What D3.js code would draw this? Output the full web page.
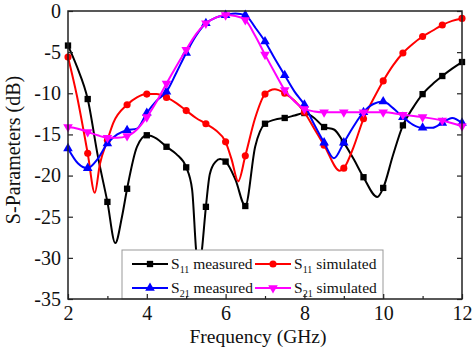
<!DOCTYPE html>
<html>
<head>
<meta charset="utf-8">
<script src="https://cdn.jsdelivr.net/npm/d3@7"></script>
<style>
  body { margin: 0; background: #fff; }
  text { font-family: "Liberation Serif", "Times New Roman", serif; fill: #111; }
</style>
</head>
<body>
<div id="chart"></div>
<script>
// S11 measured
var s11MeasFreq = [2, 2.23, 2.5, 2.76, 3, 3.2, 3.37, 3.5, 3.75, 4, 4.25, 4.5, 4.75, 5, 5.15, 5.25, 5.32, 5.4, 5.5, 5.6, 5.75, 5.86, 6, 6.25, 6.5, 6.75, 7, 7.25, 7.5, 7.75, 8, 8.25, 8.5, 8.75, 9, 9.25, 9.5, 9.85, 10, 10.25, 10.5, 10.75, 11, 11.25, 11.5, 11.75, 12];
var s11MeasDb   = [-4.2, -6.8, -10.7, -17.7, -23.2, -28.2, -25, -21.6, -16.5, -15.1, -15.5, -16.5, -17.4, -19.0, -21.7, -29, -32, -29, -23.8, -19.8, -18.3, -18.0, -18.3, -20.5, -23.7, -16.5, -13.7, -13.2, -13.0, -12.7, -12.4, -13.0, -14.1, -14.4, -16.0, -18.0, -20.2, -22.6, -21.5, -17.5, -13.9, -11.8, -10.1, -8.9, -7.9, -7.0, -6.2];

// S11 simulated
var s11SimFreq = [2, 2.23, 2.5, 2.68, 2.81, 3, 3.15, 3.5, 3.75, 4, 4.25, 4.5, 4.75, 5, 5.25, 5.5, 5.75, 6, 6.15, 6.32, 6.5, 6.75, 7, 7.25, 7.5, 7.75, 8, 8.25, 8.5, 8.9, 9, 9.25, 9.5, 9.75, 10, 10.25, 10.5, 10.75, 11, 11.25, 11.5, 11.75, 12];
var s11SimDb   = [-5.6, -10.4, -17.3, -22.1, -18.6, -15.7, -13.6, -11.4, -10.5, -10.1, -10.1, -10.5, -11.2, -12.1, -13.0, -13.7, -14.5, -15.9, -18.0, -20.7, -17.6, -13.0, -10.1, -9.5, -10.0, -10.9, -12.3, -14.3, -16.3, -19.4, -19.1, -16.5, -13.1, -10.7, -8.5, -6.6, -5.1, -4.0, -3.1, -2.4, -1.7, -1.2, -0.9];

// S21 measured
var s21MeasFreq = [2, 2.25, 2.5, 2.75, 3, 3.25, 3.5, 3.75, 4, 4.25, 4.5, 4.75, 5, 5.25, 5.5, 5.75, 6, 6.25, 6.5, 6.75, 7, 7.25, 7.5, 7.75, 8, 8.25, 8.5, 8.75, 9, 9.25, 9.5, 9.75, 10, 10.25, 10.5, 10.75, 11, 11.25, 11.5, 11.75, 12];
var s21MeasDb   = [-16.7, -18.5, -19.1, -18.0, -16.1, -15.0, -14.5, -14.3, -12.4, -10.9, -9.8, -7.5, -5.1, -3.0, -1.5, -0.8, -0.5, -0.3, -0.5, -2.0, -3.7, -5.8, -7.8, -9.8, -11.4, -13.8, -16.0, -17.9, -16.0, -14.0, -12.3, -11.3, -11.0, -11.8, -12.9, -13.8, -14.2, -14.2, -13.6, -13.0, -13.6];

// S21 simulated
var s21SimFreq = [2, 2.25, 2.5, 2.75, 3, 3.25, 3.5, 3.75, 4, 4.25, 4.5, 4.75, 5, 5.25, 5.5, 5.75, 6, 6.25, 6.5, 6.75, 7, 7.25, 7.5, 7.75, 8, 8.25, 8.5, 9, 9.5, 10, 10.5, 11, 11.5, 12];
var s21SimDb   = [-14.1, -14.3, -14.7, -15.1, -15.4, -15.4, -15.2, -14.4, -12.9, -11.0, -8.8, -6.7, -4.7, -2.8, -1.5, -0.8, -0.5, -0.6, -1.1, -3.0, -5.3, -7.5, -9.6, -11.0, -11.9, -12.2, -12.3, -12.3, -12.3, -12.3, -12.6, -12.9, -13.3, -14.0];

var xTicks = [2, 4, 6, 8, 10, 12];
var xMinor = [3, 5, 7, 9, 11];
var yTicks = [0, -5, -10, -15, -20, -25, -30, -35];

var width = 474, height = 350;
var x = d3.scaleLinear().domain([2, 12]).range([68, 462]);
var y = d3.scaleLinear().domain([-35, 0]).range([299, 11]);

var svg = d3.select('#chart').append('svg')
    .attr('width', width)
    .attr('height', height);

var series = [
    { name: '11', label: ' measured', freq: s11MeasFreq, db: s11MeasDb, color: '#000000', marker: 'square' },
    { name: '11', label: ' simulated', freq: s11SimFreq, db: s11SimDb, color: '#ff0000', marker: 'circle' },
    { name: '21', label: ' measured', freq: s21MeasFreq, db: s21MeasDb, color: '#0000ff', marker: 'triUp' },
    { name: '21', label: ' simulated', freq: s21SimFreq, db: s21SimDb, color: '#ff00ff', marker: 'triDown' }
];

var symbols = {
    square: d3.symbol().type(d3.symbolSquare).size(40),
    circle: d3.symbol().type(d3.symbolCircle).size(40),
    triUp: d3.symbol().type(d3.symbolTriangle).size(40),
    triDown: d3.symbol().type(d3.symbolTriangle).size(40)
};

var line = d3.line()
    .x(d => x(d.f))
    .y(d => y(d.v))
    .curve(d3.curveMonotoneX);

var plot = svg.append('g');

series.forEach(function(s) {
    var pts = s.freq.map((f, i) => ({ f: f, v: s.db[i] }));
    plot.append('path')
        .datum(pts)
        .attr('fill', 'none')
        .attr('stroke', s.color)
        .attr('stroke-width', 2)
        .attr('d', line);

    plot.selectAll(null)
        .data(pts.filter(d => Math.abs(d.f * 2 - Math.round(d.f * 2)) < 1e-6))
        .enter()
        .append('path')
            .attr('d', symbols[s.marker])
            .attr('fill', s.color)
            .attr('transform', d => 'translate(' + x(d.f) + ',' + y(d.v) + ')' + (s.marker == 'triDown' ? ' rotate(180)' : ''));
});

// legend
var legend = svg.append('g');
legend.append('rect')
    .attr('x', 122)
    .attr('y', 250)
    .attr('width', 261)
    .attr('height', 49)
    .attr('fill', '#fff')
    .attr('stroke', '#999')
    .attr('stroke-width', 1);

var legendPos = [
    { x: 132, y: 264 },
    { x: 255, y: 264 },
    { x: 132, y: 288 },
    { x: 255, y: 288 }
];

series.forEach(function(s, i) {
    var p = legendPos[i];
    var row = legend.append('g').attr('transform', 'translate(' + p.x + ',' + p.y + ')');
    row.append('line')
        .attr('x1', 0).attr('x2', 36)
        .attr('y1', 0).attr('y2', 0)
        .attr('stroke', s.color)
        .attr('stroke-width', 2);
    row.append('path')
        .attr('d', symbols[s.marker])
        .attr('fill', s.color)
        .attr('transform', 'translate(18,0)' + (s.marker == 'triDown' ? ' rotate(180)' : ''));
    var t = row.append('text')
        .attr('x', 39)
        .attr('y', 5)
        .attr('font-size', 15.5);
    t.append('tspan').text('S');
    t.append('tspan').attr('font-size', 10).attr('dy', 4).text(s.name);
    t.append('tspan').attr('dy', -4).text(s.label);
});

// axes
var axisColor = '#222';

var xAxis = svg.append('g')
    .attr('transform', 'translate(0,' + y(-35) + ')')
    .call(d3.axisBottom(x).tickValues(xTicks).tickSize(-5).tickPadding(7).tickFormat(d3.format('d')));
xAxis.selectAll('text').attr('font-size', 20).attr('dy', '0.7em');

svg.append('g')
    .attr('transform', 'translate(0,' + y(-35) + ')')
    .call(d3.axisBottom(x).tickValues(xMinor).tickSize(-3).tickFormat(''));

var yAxis = svg.append('g')
    .attr('transform', 'translate(' + x(2) + ',0)')
    .call(d3.axisLeft(y).tickValues(yTicks).tickSize(-5).tickPadding(7).tickFormat(d => d));
yAxis.selectAll('text').attr('font-size', 20);

svg.append('g')
    .attr('transform', 'translate(' + x(12) + ',0)')
    .call(d3.axisRight(y).tickValues(yTicks).tickSize(-5).tickFormat(''));

svg.selectAll('.domain').remove();
svg.selectAll('.tick line').attr('stroke', axisColor).attr('stroke-width', 1.2);
svg.selectAll('.tick text').style('fill', '#111').attr('font-family', '"Liberation Serif", "Times New Roman", serif');

svg.append('rect')
    .attr('x', x(2))
    .attr('y', y(0))
    .attr('width', x(12) - x(2))
    .attr('height', y(-35) - y(0))
    .attr('fill', 'none')
    .attr('stroke', axisColor)
    .attr('stroke-width', 1.5);

svg.append('text')
    .attr('x', 258)
    .attr('y', 343)
    .attr('text-anchor', 'middle')
    .attr('font-size', 19.5)
    .text('Frequency (GHz)');

svg.append('text')
    .attr('transform', 'translate(20,150) rotate(-90)')
    .attr('text-anchor', 'middle')
    .attr('font-size', 20)
    .text('S-Parameters (dB)');
</script>
</body>
</html>
